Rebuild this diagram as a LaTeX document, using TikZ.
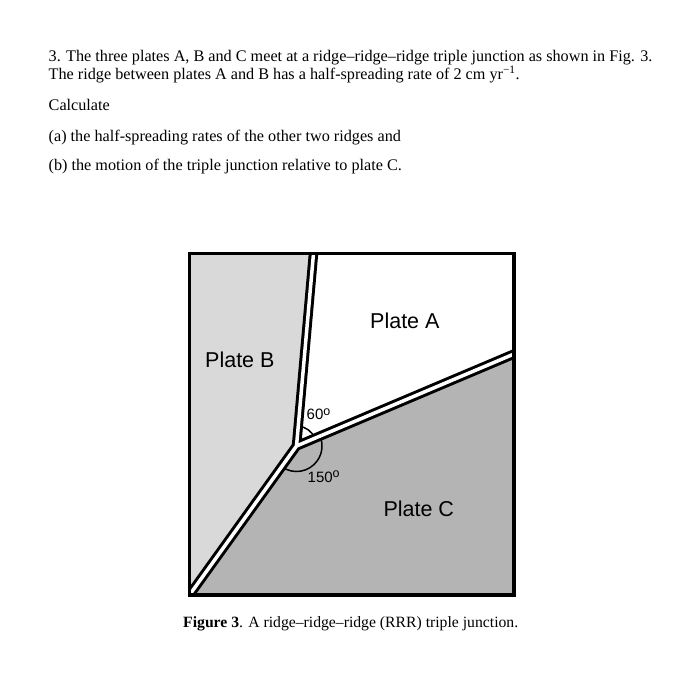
\documentclass[tikz,border=0pt]{standalone}
\usepackage{fontspec}
\setmainfont{Liberation Serif}
\newfontfamily\arialfont{Liberation Sans}
\definecolor{plateBgray}{RGB}{217,217,217}
\definecolor{plateCgray}{RGB}{180,180,180}
\newcommand{\dego}{\raisebox{4.5pt}{\fontsize{12.5}{13}\selectfont o}}
\begin{document}
\begin{tikzpicture}[x=1pt,y=1pt,
  body/.style={anchor=base west,inner sep=0pt,font=\fontsize{16.2}{19}\selectfont},
  capt/.style={anchor=base west,inner sep=0pt,font=\fontsize{15.7}{18}\selectfont},
  platelabel/.style={anchor=base west,inner sep=0pt,font=\arialfont\fontsize{21.5}{24}\selectfont},
  anglabel/.style={anchor=base west,inner sep=0pt,font=\arialfont\fontsize{15}{17}\selectfont},
  ridgeblack/.style={line width=9.5pt,line cap=round,black},
  ridgewhite/.style={line width=3.5pt,line cap=round,white},
  arcline/.style={line width=1.5pt,black},
  frameline/.style={line width=3.5pt,black}
]
\useasboundingbox (0,0) rectangle (683,-686);
% text
\node[body] (l1) at (48.5,-61) {3. The three plates A, B and C meet at a ridge–ridge–ridge triple junction as shown in Fig. 3.};
\node[body] (l2) at (48.5,-79.5) {The ridge between plates A and B has a half-spreading rate of 2 cm yr\textsuperscript{−1}.};
\node[body] (l3) at (48.5,-110.5) {Calculate};
\node[body] (l4) at (48.5,-141) {(a) the half-spreading rates of the other two ridges and};
\node[body] (l5) at (48.5,-170) {(b) the motion of the triple junction relative to plate C.};
% geometry
\coordinate (TL) at (189.5,-253.5);
\coordinate (TR) at (514,-253.5);
\coordinate (BR) at (514,-595);
\coordinate (BL) at (189.5,-595);
\coordinate (J) at (296.5,-446);
\coordinate (T) at (313.5,-253.5);
\coordinate (R) at (514,-354);
\coordinate (L) at (189.5,-595);
% plates
\fill[plateBgray] (TL) -- (T) -- (J) -- (L) -- cycle;
\fill[white] (T) -- (TR) -- (R) -- (J) -- cycle;
\fill[plateCgray] (J) -- (R) -- (BR) -- (L) -- cycle;
% angle arcs
\draw[arcline] ([shift={(22.93:20pt)}]J) arc[start angle=22.93,end angle=84.95,radius=20pt];
\draw[arcline] ([shift={(-125.33:25.5pt)}]J) arc[start angle=-125.33,end angle=22.93,radius=25.5pt];
% ridges
\begin{scope}
\clip (TL) rectangle (BR);
\draw[ridgeblack] (J) -- (T) (J) -- (R) (J) -- (L);
\draw[ridgewhite] (J) -- (T) (J) -- (R) (J) -- (L);
\end{scope}
\draw[frameline] (TL) rectangle (BR);
% labels
\node[platelabel] (pa) at (370,-328.3) {Plate A};
\node[platelabel] (pb) at (205,-367.3) {Plate B};
\node[platelabel] (pc) at (383.3,-516) {Plate C};
\node[anglabel] (a60) at (306.5,-419.5) {60\dego};
\node[anglabel] (a150) at (307.5,-482) {150\dego};
% caption
\node[capt] (cap) at (183,-627) {\textbf{Figure 3}. A ridge–ridge–ridge (RRR) triple junction.};
\end{tikzpicture}
\end{document}
